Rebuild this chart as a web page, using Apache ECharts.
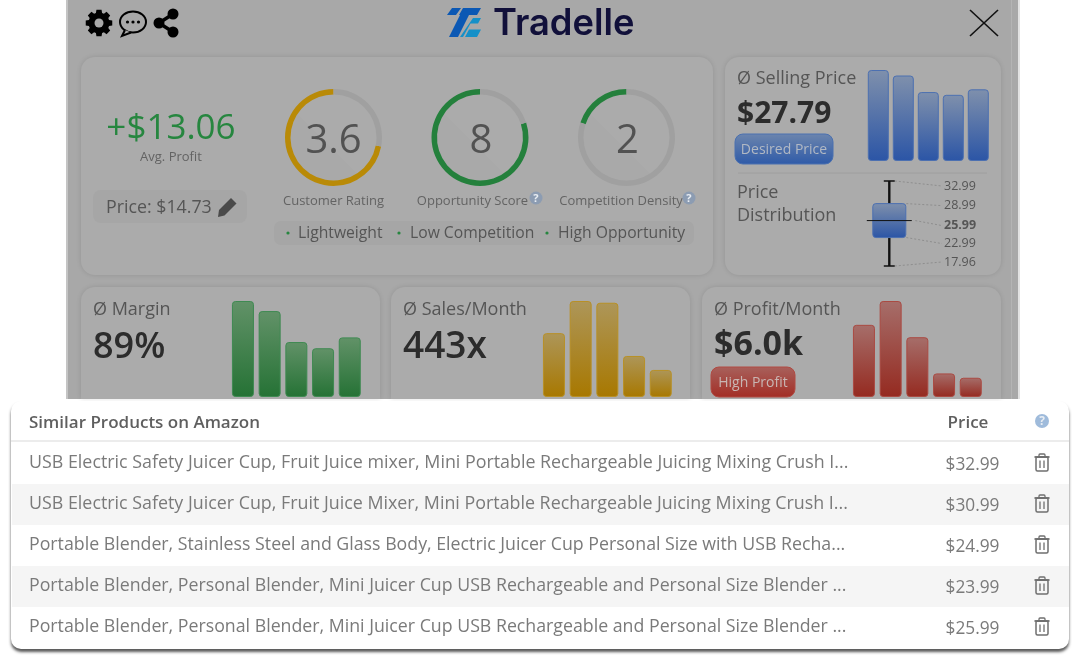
<!DOCTYPE html>
<html>
<head>
<meta charset="utf-8">
<title>Tradelle</title>
<style>html,body{margin:0;padding:0;background:#fff}#chart{width:1080px;height:655px}</style>
<script src="https://cdn.jsdelivr.net/npm/echarts@6/dist/echarts.min.js"></script>
</head>
<body>
<div id="chart"></div>
<script>
// values
const sellingPrices = [32.99, 30.99, 24.99, 23.99, 25.99];
const marginValues = [124, 111, 71, 63, 77];
const salesValues = [439, 660, 648, 282, 186];
const profitValues = [7990, 10630, 6620, 2610, 2130];
const priceStats = [17.96, 22.99, 25.99, 28.99, 32.99]; // min, q1, median, q3, max
const ringLabels = ['Customer Rating', 'Opportunity Score', 'Competition Density'];
const ringValues = [3.6, 8, 2];
const ringMax = [5, 10, 10];
const productNames = [
  'USB Electric Safety Juicer Cup, Fruit Juice mixer, Mini Portable Rechargeable Juicing Mixing Crush I...',
  'USB Electric Safety Juicer Cup, Fruit Juice Mixer, Mini Portable Rechargeable Juicing Mixing Crush I...',
  'Portable Blender, Stainless Steel and Glass Body, Electric Juicer Cup Personal Size with USB Recha...',
  'Portable Blender, Personal Blender, Mini Juicer Cup USB Rechargeable and Personal Size Blender ...',
  'Portable Blender, Personal Blender, Mini Juicer Cup USB Rechargeable and Personal Size Blender ...'
];

const FONT = '"Open Sans", sans-serif';
const chart = echarts.init(document.getElementById('chart'));
const els = [];

function rect(x, y, w, h, fill, r, extra) {
  els.push({ type: 'rect', shape: { x: x, y: y, width: w, height: h, r: r || 0 }, style: Object.assign({ fill: fill }, extra || {}), silent: true });
}
function text(str, x, y, size, fill, weight, align, family) {
  els.push({
    type: 'text', silent: true,
    style: { text: str, x: x, y: y + 1, font: (weight || 400) + ' ' + size + 'px ' + (family || FONT), fill: fill, align: align || 'left', verticalAlign: 'middle' }
  });
}
function line(x1, y1, x2, y2, stroke, w, dash) {
  els.push({ type: 'line', silent: true, shape: { x1: x1, y1: y1, x2: x2, y2: y2 }, style: { stroke: stroke, lineWidth: w, lineDash: dash || null } });
}
function circle(cx, cy, r, style) {
  els.push({ type: 'circle', silent: true, shape: { cx: cx, cy: cy, r: r }, style: style });
}
function poly(points, fill) {
  els.push({ type: 'polygon', silent: true, shape: { points: points }, style: { fill: fill } });
}
function grad(top, bottom) {
  return new echarts.graphic.LinearGradient(0, 0, 0, 1, [{ offset: 0, color: top }, { offset: 1, color: bottom }]);
}
function help(cx, cy, fill, r) {
  circle(cx, cy, r, { fill: fill });
  text('?', cx, cy - 0.5, r * 1.7, '#e8edf3', 700, 'center');
}

// dimmed panel behind the table
rect(66, 0, 952, 399, '#a8a8a8');
rect(66, 0, 2, 399, '#c4c4c4');
rect(1011, 0, 1, 399, '#b4b4b4');
rect(1018, 0, 2, 399, '#e2e2e2');

// header icons
(function gear(cx, cy) {
  const pts = [];
  for (let i = 0; i < 8; i++) {
    const a = i * Math.PI / 4;
    [[-0.19, 13.5], [0.19, 13.5], [0.3, 10.5], [0.485, 10.5]].forEach(function (p) {
      pts.push([cx + p[1] * Math.cos(a + p[0]), cy + p[1] * Math.sin(a + p[0])]);
    });
  }
  poly(pts, '#000');
  circle(cx, cy, 4.5, { fill: '#a8a8a8' });
})(99, 23);
els.push({ type: 'ellipse', silent: true, shape: { cx: 133, cy: 22, rx: 13, ry: 10.5 }, style: { fill: 'none', stroke: '#000', lineWidth: 2 } });
els.push({ type: 'polyline', silent: true, shape: { points: [[125, 30], [122, 36], [131, 32.5]] }, style: { stroke: '#000', lineWidth: 2, fill: '#a8a8a8' } });
[127.5, 133, 138.5].forEach(function (x) { circle(x, 22, 1.6, { fill: '#000' }); });
line(159, 23, 173, 14, '#000', 3.5);
line(159, 23, 173, 32, '#000', 3.5);
circle(159, 23, 5.5, { fill: '#000' });
circle(173, 14, 5.5, { fill: '#000' });
circle(173, 32, 5.5, { fill: '#000' });

// logo
poly([[452, 8], [461, 8], [456, 15], [447, 15]], '#0b58b4');
poly([[463, 8], [481, 8], [477, 15], [469, 15], [458, 37], [449, 37], [460, 15], [459, 15]], '#0b58b4');
poly([[473, 18], [481, 18], [478, 23.5], [470.5, 23.5], [463, 37], [460, 37]], '#1590c8');
poly([[469, 29.5], [481, 29.5], [477, 37], [465, 37]], '#1590c8');
text('Tradelle', 493, 23, 36.3, '#11103a', 600, 'left', 'Inter');
line(970, 10, 998, 36, '#111', 1.6);
line(998, 10, 970, 36, '#111', 1.6);

// cards
const cardStyle = { shadowBlur: 5, shadowColor: 'rgba(0,0,0,0.12)' };
rect(81, 57, 632, 218, '#ababab', 14, cardStyle);
rect(725, 57, 276, 218, '#ababab', 14, cardStyle);
rect(81, 287, 299, 112, '#ababab', [14, 14, 0, 0], cardStyle);
rect(391, 287, 299, 112, '#ababab', [14, 14, 0, 0], cardStyle);
rect(702, 287, 299, 112, '#ababab', [14, 14, 0, 0], cardStyle);

// main card
text('+$13.06', 171, 128, 35, '#26863f', 400, 'center');
text('Avg. Profit', 171, 156, 13, '#636363', 400, 'center');
rect(93, 190, 154, 33, '#a6a6a6', 8);
text('Price: $14.73', 106, 207, 17.8, '#555', 400);
poly([[219, 210], [231, 198], [236.5, 203.5], [224.5, 215.5], [218, 217]], '#4a4a4a');

const ringX = [333.5, 480, 626.5];
const ringColors = ['#b98a07', '#24803c', '#24803c'];
ringX.forEach(function (x, i) {
  circle(x, 137.5, 43, {
    fill: new echarts.graphic.LinearGradient(1, 0, 0, 1, [
      { offset: 0, color: '#ababab' }, { offset: 0.57, color: '#ababab' },
      { offset: 0.57, color: '#a9a9a9' }, { offset: 1, color: '#a9a9a9' }
    ])
  });
  text(String(ringValues[i]), i === 0 ? x : x + 1, 141, 40, '#525252', 400, 'center');
});
text(ringLabels[0], 333.5, 200, 13, '#636363', 400, 'center');
text(ringLabels[1], 472.5, 200, 13, '#636363', 400, 'center');
text(ringLabels[2], 621, 200, 13, '#636363', 400, 'center');
help(536, 198, '#8c9cb2', 6.5);
help(689, 198, '#8c9cb2', 6.5);

rect(274, 221, 420, 24, '#a6a6a6', 7);
[[288, 298, 'Lightweight'], [399, 410, 'Low Competition'], [547, 558, 'High Opportunity']].forEach(function (c) {
  circle(c[0], 233, 1.6, { fill: '#26863f' });
  text(c[2], c[1], 233, 15.7, '#555', 400);
});

// selling price card
text('Ø Selling Price', 737, 78, 18, '#555', 400);
text('$27.79', 737, 113, 30, '#2c2c2c', 700);
rect(735, 134, 98, 30, grad('#6c85ad', '#2e5aa8'), 8, { stroke: '#4a70b0', lineWidth: 1 });
text('Desired Price', 784, 149, 14, '#b2b9c4', 400, 'center');
line(738, 173, 987, 173, '#9e9e9e', 1);
text('Price', 737, 192, 18, '#555', 400);
text('Distribution', 737, 215, 18, '#555', 400);

// lower cards
text('Ø Margin', 93, 309, 18, '#555', 400);
text('89%', 93, 347, 36, '#2c2c2c', 600);
text('Ø Sales/Month', 403, 309, 18, '#555', 400);
text('443x', 403, 346, 37, '#2c2c2c', 600);
text('Ø Profit/Month', 714, 309, 18, '#555', 400);
text('$6.0k', 714, 344, 34, '#2c2c2c', 700);
rect(711, 367, 84, 30, grad('#a8615c', '#a32d25'), 8, { stroke: '#b04a42', lineWidth: 1 });
text('High Profit', 753, 382, 14, '#c9b6b3', 400, 'center');

// table
rect(11, 401, 1058, 248, '#fff', 10, { shadowBlur: 3, shadowOffsetY: 3, shadowColor: 'rgba(0,0,0,0.65)' });
text('Similar Products on Amazon', 29, 422, 17, '#5f5f5f', 600);
text('Price', 968, 422, 17, '#5f5f5f', 600, 'center');
help(1042, 421, '#9fbbdb', 7);
line(11, 441, 1069, 441, '#e6e6e6', 1.5);
const rowTops = [442, 484, 525, 566, 607];
productNames.forEach(function (name, i) {
  if (i % 2 === 1) rect(12, rowTops[i], 1057, 41, '#f5f5f5');
  const textY = 462.3 + i * 41;
  text(name, 29, textY, i < 2 ? 17.85 : 17.75, '#7a7a7a', 400);
  text('$' + sellingPrices[i].toFixed(2), 972.5, 464 + i * 41, 17.3, '#7a7a7a', 400, 'center');
  // trash icon
  const tx = 1042, ty = 462.5 + i * 41;
  line(tx - 7.5, ty - 5.5, tx + 7.5, ty - 5.5, '#6f6f6f', 1.8);
  els.push({ type: 'rect', silent: true, shape: { x: tx - 6, y: ty - 5.5, width: 12, height: 14, r: 1.5 }, style: { fill: 'none', stroke: '#6f6f6f', lineWidth: 1.5 } });
  els.push({ type: 'rect', silent: true, shape: { x: tx - 3, y: ty - 8.5, width: 6, height: 3, r: 1 }, style: { fill: 'none', stroke: '#6f6f6f', lineWidth: 1.3 } });
  line(tx - 2, ty - 2, tx - 2, ty + 5.5, '#6f6f6f', 1.3);
  line(tx + 2, ty - 2, tx + 2, ty + 5.5, '#6f6f6f', 1.3);
});

// small bar charts
const barBoxes = [
  { left: 865.8, top: 70, width: 125, height: 91, barWidth: 21, data: sellingPrices, top1: '#7f90ac', bottom1: '#2b55a6', border: '#4c70b1' },
  { left: 229.6, top: 301, width: 133.5, height: 96, barWidth: 22, data: marginValues, top1: '#629268', bottom1: '#257235', border: '#3f8a52' },
  { left: 540.6, top: 301, width: 133.5, height: 96, barWidth: 22, data: salesValues, top1: '#ad9659', bottom1: '#a87800', border: '#b89026' },
  { left: 850.6, top: 301, width: 133.5, height: 96, barWidth: 22, data: profitValues, top1: '#a66e6a', bottom1: '#952a20', border: '#aa4a42' }
];
const grids = [], xAxes = [], yAxes = [], series = [];
barBoxes.forEach(function (b, i) {
  grids.push({ left: b.left, top: b.top, width: b.width, height: b.height });
  xAxes.push({ type: 'category', gridIndex: i, show: false, data: b.data.map(function (v, k) { return k; }) });
  yAxes.push({ type: 'value', gridIndex: i, show: false, min: 0, max: Math.max.apply(null, b.data) });
  series.push({
    type: 'bar', xAxisIndex: i, yAxisIndex: i, data: b.data, barWidth: b.barWidth, silent: true,
    itemStyle: { color: grad(b.top1, b.bottom1), borderColor: b.border, borderWidth: 1, borderRadius: 3 }
  });
});

// price distribution box
const boxIdx = grids.length;
grids.push({ left: 864.3, top: 181, width: 50, height: 85 });
xAxes.push({ type: 'category', gridIndex: boxIdx, show: false, data: ['Price'] });
yAxes.push({ type: 'value', gridIndex: boxIdx, show: false, min: priceStats[0], max: priceStats[4] });
const labelShift = [-4, 6, 5, 2, 5];
const leaderFrom = [5.5, 17, 26, 17, 5.5];
series.push({
  type: 'custom', xAxisIndex: boxIdx, yAxisIndex: boxIdx, silent: true, clip: false,
  data: [[0].concat(priceStats)],
  renderItem: function (params, api) {
    const cx = api.coord([api.value(0), priceStats[0]])[0];
    const ys = [1, 2, 3, 4, 5].map(function (d) { return api.coord([api.value(0), api.value(d)])[1]; });
    const kids = [
      { type: 'line', shape: { x1: cx, y1: ys[4], x2: cx, y2: ys[0] }, style: { stroke: '#111', lineWidth: 2.4 } },
      { type: 'line', shape: { x1: cx - 5.5, y1: ys[4], x2: cx + 5.5, y2: ys[4] }, style: { stroke: '#111', lineWidth: 1.5 } },
      { type: 'line', shape: { x1: cx - 5.5, y1: ys[0], x2: cx + 5.5, y2: ys[0] }, style: { stroke: '#111', lineWidth: 1.5 } },
      { type: 'rect', shape: { x: cx - 16.5, y: ys[3], width: 33, height: ys[1] - ys[3], r: 3 }, style: { fill: grad('#7f90ac', '#2b55a6'), stroke: '#4c70b1', lineWidth: 1 } },
      { type: 'line', shape: { x1: cx - 22.5, y1: ys[2], x2: cx + 22.5, y2: ys[2] }, style: { stroke: '#111', lineWidth: 1 } }
    ];
    ys.forEach(function (y, i) {
      const ly = y + labelShift[i];
      kids.push({ type: 'line', shape: { x1: cx + leaderFrom[i], y1: y, x2: 942, y2: ly }, style: { stroke: '#8e8e8e', lineWidth: 1, lineDash: [2, 2] } });
      kids.push({ type: 'text', style: { text: api.value(i + 1).toFixed(2), x: 944, y: ly, font: (i === 2 ? 700 : 400) + ' 12.5px ' + FONT, fill: '#555', align: 'left', verticalAlign: 'middle' } });
    });
    return { type: 'group', children: kids };
  }
});

// score rings
ringValues.forEach(function (v, i) {
  series.push({
    type: 'pie', silent: true, center: [ringX[i], 137.5], radius: [43, 48.5], startAngle: 90, clockwise: false,
    label: { show: false }, labelLine: { show: false },
    data: [{ value: v, itemStyle: { color: ringColors[i] } }, { value: ringMax[i] - v, itemStyle: { color: '#a0a0a0' } }]
  });
});

chart.setOption({
  animation: false,
  backgroundColor: '#fff',
  grid: grids, xAxis: xAxes, yAxis: yAxes,
  graphic: { elements: els },
  series: series
});
</script>
</body>
</html>
